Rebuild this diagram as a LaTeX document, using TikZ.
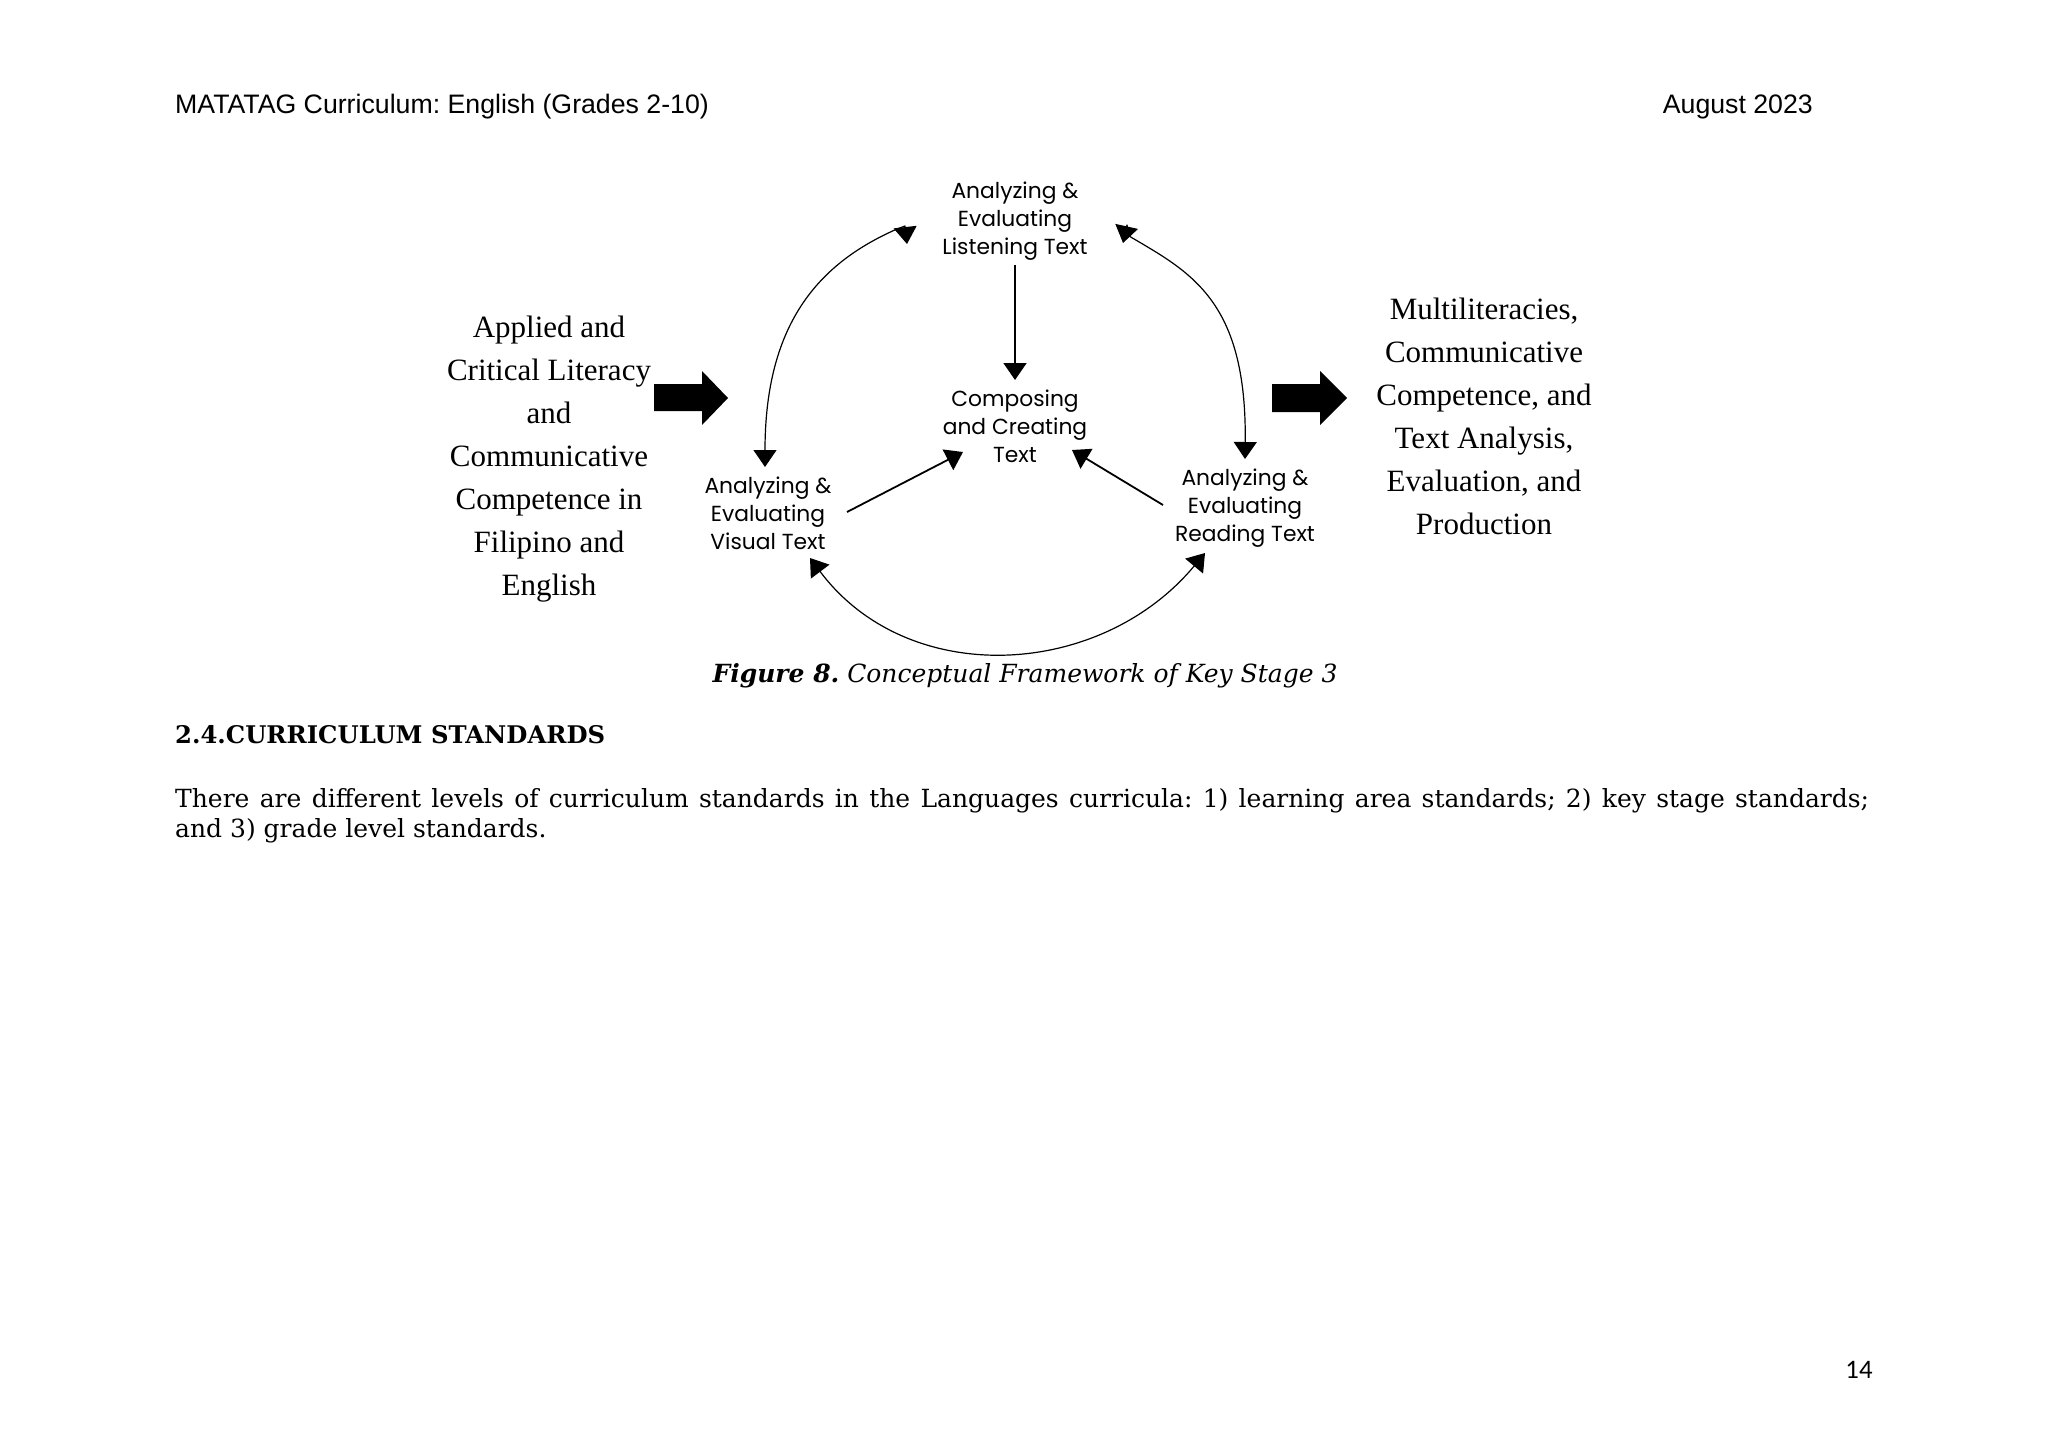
\documentclass[tikz,border=0pt]{standalone}
\usepackage{fontspec}
\setmainfont{Liberation Serif}
\newfontfamily\hdrfont{Liberation Sans}
\newfontfamily\diafont{Poppins}
\newfontfamily\bodyfont{DejaVu Serif}
\newfontfamily\pgnumfont{Carlito}
\usetikzlibrary{arrows.meta}
\frenchspacing
\begin{document}
\begin{tikzpicture}[x=1pt,y=-1pt,
  lbl/.style={font=\diafont\fontsize{21.8}{28}\selectfont, align=center, inner sep=0pt, anchor=base},
  bigtxt/.style={font=\fontsize{31}{43}\selectfont, align=center, inner sep=0pt, anchor=base},
  straight/.style={line width=1.8pt, -{Triangle[length=17pt,width=23pt]}},
  curved/.style={line width=1.2pt, line join=round, {Triangle[length=17pt,width=23pt]}-{Triangle[length=17pt,width=23pt]}},
  blockarrow/.style={fill=black},
  hdr/.style={font=\hdrfont\fontsize{26.7}{30}\selectfont, inner sep=0pt},
  body/.style={font=\bodyfont\fontsize{25}{31}\selectfont, inner sep=0pt, anchor=base west},
]
\useasboundingbox[fill=white] (0,0) rectangle (2048,1449);
% header
\node[hdr, anchor=base west] (hdrl) at (175,113) {MATATAG Curriculum: English (Grades 2-10)};
\node[hdr, anchor=base east] (hdrr) at (1813,113) {August 2023};

% diagram labels (anchor base = last line)
\node[lbl] (listen) at (1015,254) {Analyzing \&\\Evaluating\\Listening Text};
\node[lbl] (compose) at (1015,462) {Composing\\and Creating\\Text};
\node[lbl] (visual) at (768,549) {Analyzing \&\\Evaluating\\Visual Text};
\node[lbl] (reading) at (1245,541) {Analyzing \&\\Evaluating\\Reading Text};

\node[bigtxt] (applied) at (549,595) {Applied and\\Critical Literacy\\and\\Communicative\\Competence in\\Filipino and\\English};
\node[bigtxt] (outcome) at (1484,534) {Multiliteracies,\\Communicative\\Competence, and\\Text Analysis,\\Evaluation, and\\Production};

% block arrows
\fill[blockarrow] (654,384) -- (702,384) -- (702,371) -- (728,398) -- (702,425) -- (702,411) -- (654,411) -- cycle;
\fill[blockarrow] (1272,384) -- (1320,384) -- (1320,371) -- (1347,398) -- (1320,425) -- (1320,412) -- (1272,412) -- cycle;

% connector end points
\coordinate (L-out) at (1015,265);
\coordinate (C-inT) at (1015,380);
\coordinate (V-out) at (847,512);
\coordinate (C-inL) at (963,452);
\coordinate (R-out) at (1163,505);
\coordinate (C-inR) at (1072,450);
\coordinate (V-top) at (765,467);
\coordinate (L-left) at (905,226);
\coordinate (L-lefttip) at (907,244);
\coordinate (R-top) at (1245,459);
\coordinate (L-right) at (1127,225);
\coordinate (L-righttip) at (1123,243);
\coordinate (V-bot) at (810,558);
\coordinate (R-bot) at (1205,553);

\draw[straight] (L-out) -- (C-inT);
\draw[straight] (V-out) -- (C-inL);
\draw[straight] (R-out) -- (C-inR);
\draw[curved] (V-top) .. controls (765,320) and (822,262) .. (897,229) -- (L-left) -- (L-lefttip);
\draw[curved] (R-top) .. controls (1247,300) and (1190,272) .. (1129,236) -- (L-right) -- (L-righttip);
\draw[curved] (V-bot) .. controls (908,689) and (1100,679) .. (R-bot);

% caption and text
\node[anchor=base, font=\bodyfont\fontsize{25}{28}\selectfont, inner sep=0pt] (caption) at (1025,682) {\textbf{\textit{Figure 8.}} \textit{Conceptual Framework of Key Stage 3}};
\node[body, font=\bodyfont\bfseries\fontsize{24.3}{30}\selectfont] (heading) at (175,743) {2.4.CURRICULUM STANDARDS};
\node[body] (para1) at (175,807) {\makebox[1694pt][s]{There are different levels of curriculum standards in the Languages curricula: 1) learning area standards; 2) key stage standards;}};
\node[body] (para2) at (175,837) {and 3) grade level standards.};

\node[font=\pgnumfont\fontsize{26.7}{30}\selectfont, anchor=base, inner sep=0pt] (pagenum) at (1859,1378) {14};
\end{tikzpicture}
\end{document}
